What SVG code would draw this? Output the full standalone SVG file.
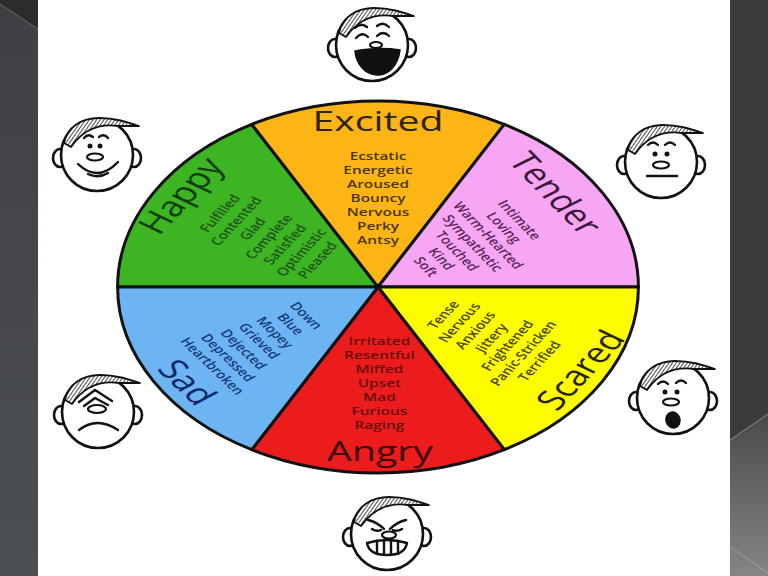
<svg xmlns="http://www.w3.org/2000/svg" width="768" height="576" viewBox="0 0 768 576">
<defs>
<linearGradient id="rg" x1="0" y1="0" x2="0" y2="1"><stop offset="0" stop-color="#4a4a4a"/><stop offset="1" stop-color="#858585"/></linearGradient>
<linearGradient id="lg" x1="0" y1="0" x2="0" y2="1"><stop offset="0" stop-color="#3e4043"/><stop offset="1" stop-color="#4d5053"/></linearGradient>
<pattern id="hatch" width="3" height="3" patternUnits="userSpaceOnUse" patternTransform="rotate(35)">
<rect width="3" height="3" fill="#fff"/>
<line x1="0" y1="0" x2="0" y2="3" stroke="#222" stroke-width="1.6"/>
</pattern>
<style>
.t{font-family:"Open Sans","Liberation Sans",sans-serif;text-anchor:middle}
.ti{font-size:28px}
.it{font-size:11px;font-weight:600}
.w{stroke:#111;stroke-width:3;stroke-linejoin:round;vector-effect:non-scaling-stroke}
.f{fill:none;stroke:#111;stroke-width:2.4;stroke-linecap:round;stroke-linejoin:round}
.hd{fill:#fff;stroke:#111;stroke-width:2.6}
.hair{fill:url(#hatch);stroke:#111;stroke-width:1.8;stroke-linejoin:round}
.blk{fill:#111;stroke:#111;stroke-width:1.5}
.nose{fill:#fff;stroke:#111;stroke-width:2.2}
</style>
<g id="base">
<ellipse class="hd" cx="-37" cy="3" rx="7" ry="9"/>
<ellipse class="hd" cx="37" cy="3" rx="7" ry="9"/>
<circle class="hd" r="36"/>
<path class="hair" d="M-33,-12 C-30,-28 -15,-37 2,-37 C18,-37 30,-33 42,-29 C35,-29 28,-29 21,-29 C6,-31 -12,-28 -26,-8 Z"/>
</g>
</defs>
<rect x="0" y="0" width="768" height="576" fill="#fff"/>
<g id="side-left">
<rect x="0" y="0" width="38" height="576" fill="url(#lg)"/>
<polygon points="0,0 38,0 38,29 0,4" fill="#2c2c2d"/>
<line x1="0" y1="4" x2="38" y2="29" stroke="#6a6a6a" stroke-width="1"/>
</g>
<g id="side-right">
<rect x="730" y="0" width="38" height="576" fill="#3b3b3b"/>
<polygon points="730,440 768,414 768,576 730,576" fill="url(#rg)"/>
<line x1="730" y1="440" x2="768" y2="414" stroke="#8a8a8a" stroke-width="1"/>
<line x1="730" y1="547" x2="768" y2="573" stroke="#a0a0a0" stroke-width="1"/>
</g>

<g id="wheel" transform="translate(378 287) scale(1.4 1)">
<g id="happy">
<path class="w" fill="#3db522" d="M0,0 L-186,0 A186,186 0 0 1 -90.2,-162.7 Z"/>
<g transform="rotate(-56)">
<text class="t ti" x="-3" y="-158" font-size="27" fill="#123d10">Happy</text>
<g class="t it" fill="#1e5418">
<text x="-2" y="-131">Fulfilled</text>
<text x="-2" y="-117">Contented</text>
<text x="-2" y="-103">Glad</text>
<text x="-2" y="-89">Complete</text>
<text x="-2" y="-75">Satisfied</text>
<text x="-2" y="-61">Optimistic</text>
<text x="-2" y="-47">Pleased</text>
</g>
</g>
</g>
<g id="excited">
<path class="w" fill="#fdb515" d="M0,0 L-90.2,-162.7 A186,186 0 0 1 90.2,-162.7 Z"/>
<text class="t ti" x="0" y="-156" fill="#2e2204">Excited</text>
<g class="t it" fill="#4a3406">
<text x="0" y="-127.5">Ecstatic</text>
<text x="0" y="-113.5">Energetic</text>
<text x="0" y="-99.5">Aroused</text>
<text x="0" y="-85.5">Bouncy</text>
<text x="0" y="-71.5">Nervous</text>
<text x="0" y="-57.5">Perky</text>
<text x="0" y="-43.5">Antsy</text>
</g>
</g>
<g id="tender">
<path class="w" fill="#f6a6f3" d="M0,0 L90.2,-162.7 A186,186 0 0 1 186,0 Z"/>
<g transform="rotate(55)">
<text class="t ti" x="-4" y="-148" fill="#3a1838">Tender</text>
<g class="t it" fill="#5a2658">
<text x="3" y="-117.5">Intimate</text>
<text x="3" y="-103.9">Loving</text>
<text x="3" y="-90.3">Warm-Hearted</text>
<text x="3" y="-76.7">Sympathetic</text>
<text x="3" y="-63.1">Touched</text>
<text x="3" y="-49.5">Kind</text>
<text x="3" y="-35.9">Soft</text>
</g>
</g>
</g>
<g id="scared">
<path class="w" fill="#fdfd00" d="M0,0 L186,0 A186,186 0 0 1 90.2,162.7 Z"/>
<g transform="rotate(-56)">
<text class="t ti" x="12" y="176" font-size="29" fill="#262400">Scared</text>
<g class="t it" fill="#4a4610">
<text x="3" y="58">Tense</text>
<text x="3" y="71.8">Nervous</text>
<text x="3" y="85.6">Anxious</text>
<text x="3" y="99.4">Jittery</text>
<text x="3" y="113.2">Frightened</text>
<text x="3" y="127">Panic-Stricken</text>
<text x="3" y="140.8">Terrified</text>
</g>
</g>
</g>
<g id="angry">
<path class="w" fill="#ec1c1c" d="M0,0 L90.2,162.7 A186,186 0 0 1 -90.2,162.7 Z"/>
<text class="t ti" x="1.4" y="174" font-size="26" fill="#3a0606">Angry</text>
<g class="t it" fill="#650d0d">
<text x="1" y="58.5">Irritated</text>
<text x="1" y="72.5">Resentful</text>
<text x="1" y="86.5">Miffed</text>
<text x="1" y="100.5">Upset</text>
<text x="1" y="114.5">Mad</text>
<text x="1" y="128.5">Furious</text>
<text x="1" y="142.5">Raging</text>
</g>
</g>
<g id="sad">
<path class="w" fill="#6db4f3" d="M0,0 L-90.2,162.7 A186,186 0 0 1 -186,0 Z"/>
<g transform="rotate(53)">
<text class="t ti" x="-6" y="176" font-size="30" fill="#0c2766">Sad</text>
<g class="t it" fill="#173a7a">
<text x="-8" y="62">Down</text>
<text x="-8" y="76">Blue</text>
<text x="-8" y="90">Mopey</text>
<text x="-8" y="104">Grieved</text>
<text x="-8" y="118">Dejected</text>
<text x="-8" y="132">Depressed</text>
<text x="-8" y="146">Heartbroken</text>
</g>
</g>
</g>
</g>

<g id="face-laughing" transform="translate(372 45)">
<use href="#base"/>
<path class="f" d="M-17,-17 Q-11,-23 -5,-18 M5,-19 Q11,-24 17,-18"/>
<path class="f" d="M-16,-7 Q-10,-14 -4,-8 M5,-9 Q11,-15 17,-9"/>
<ellipse class="nose" cx="4" cy="0" rx="6" ry="3"/>
<path class="blk" d="M-17,6 C-5,3 15,3 28,5 C26,22 15,31 4,30 C-8,29 -16,18 -17,6 Z"/>
</g>
<g id="face-happy" transform="translate(97 155)">
<use href="#base"/>
<path class="f" d="M-13,-17 Q-9,-22 -4,-18 M2,-18 Q7,-22 11,-17"/>
<circle cx="-7" cy="-9" r="2.5" fill="#111"/>
<circle cx="3" cy="-9" r="2.5" fill="#111"/>
<ellipse class="nose" cx="-2" cy="2" rx="8" ry="3.5"/>
<path class="f" d="M-19,9 Q1,28 21,7"/>
<path class="f" stroke-width="1.6" d="M-9,19 Q1,24 11,18"/>
</g>
<g id="face-neutral" transform="translate(661 162)">
<use href="#base"/>
<path class="f" d="M-13,-17 Q-8,-22 -3,-17 M4,-17 Q9,-22 14,-17"/>
<circle cx="-6" cy="-8" r="2.5" fill="#111"/>
<circle cx="6" cy="-8" r="2.5" fill="#111"/>
<ellipse class="nose" cx="0" cy="3" rx="8" ry="3.5"/>
<path class="f" d="M-14,14 L16,14"/>
</g>
<g id="face-surprised" transform="translate(673 398)">
<use href="#base"/>
<path class="f" d="M-15,-14 Q-10,-19 -5,-14 M3,-15 Q8,-20 13,-15"/>
<circle cx="-8" cy="-6" r="2.5" fill="#111"/>
<circle cx="4" cy="-6" r="2.5" fill="#111"/>
<ellipse class="nose" cx="-2" cy="4" rx="8" ry="3.5"/>
<ellipse class="blk" cx="0" cy="22" rx="7" ry="8" transform="rotate(-15 0 22)"/>
</g>
<g id="face-sad" transform="translate(98 412)">
<use href="#base"/>
<path class="f" d="M-19,-10 L-3,-22 L14,-11"/>
<path class="f" d="M-14,-6 L-3,-14 L10,-7"/>
<ellipse class="nose" cx="-1" cy="-3" rx="9" ry="4"/>
<path class="f" d="M-19,18 Q-1,4 20,18"/>
</g>
<g id="face-angry" transform="translate(387 534)">
<use href="#base"/>
<path class="f" stroke-width="3" d="M-19,-14 Q-10,-12 -3,-5 M19,-14 Q10,-12 3,-5"/>
<path class="f" d="M-15,-5 Q-10,-2 -6,-4 M15,-5 Q10,-2 6,-4"/>
<ellipse class="nose" cx="2" cy="1" rx="7" ry="3.5"/>
<path class="f" fill="#fff" d="M-20,9 Q0,3 20,9 Q18,21 0,21 Q-18,21 -20,9 Z"/>
<path class="f" stroke-width="1.8" d="M-10,7 L-10,20 M-3,6 L-3,21 M4,6 L4,21 M11,7 L11,20"/>
</g>
</svg>
